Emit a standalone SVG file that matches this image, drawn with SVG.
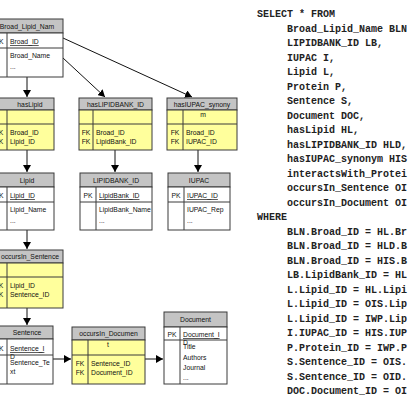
<svg xmlns="http://www.w3.org/2000/svg" width="409" height="409" viewBox="0 0 409 409">
<style>
.hdr{fill:#c4c4c4;stroke:#3a3a3a;stroke-width:1}
.wb{fill:#ffffff;stroke:#3a3a3a;stroke-width:1}
.yb{fill:#ffff9c;stroke:#3a3a3a;stroke-width:1}
.ln{stroke:#3a3a3a;stroke-width:1}
text{font-family:"Liberation Sans",Arial,sans-serif;font-size:6.8px;fill:#111}
.c{text-anchor:middle}
.u{text-decoration:underline}
.sql{font-family:"Liberation Mono","Courier New",monospace;font-size:10px;font-weight:bold;fill:#222}
.con{stroke:#111;stroke-width:1;fill:none;marker-end:url(#ah)}
</style>
<defs>
<marker id="ah" markerUnits="userSpaceOnUse" markerWidth="8" markerHeight="8" refX="7" refY="4" orient="auto">
<path d="M0,0 L7,4 L0,8 Z" fill="#000"/>
</marker>
</defs>
<rect width="409" height="409" fill="#fff"/>

<g id="connectors">
<line class="con" x1="27" y1="77" x2="27" y2="97"/>
<line class="con" x1="63" y1="58" x2="105" y2="97"/>
<line class="con" x1="63" y1="38" x2="192" y2="97"/>
<line class="con" x1="27" y1="150" x2="27" y2="172"/>
<line class="con" x1="115" y1="150" x2="115" y2="172"/>
<line class="con" x1="198" y1="150" x2="198" y2="172"/>
<line class="con" x1="27" y1="230" x2="27" y2="249"/>
<line class="con" x1="27" y1="308" x2="27" y2="325"/>
<line class="con" x1="53" y1="359" x2="71" y2="359"/>
<line class="con" x1="145" y1="359" x2="163" y2="359"/>
</g>

<g id="broad_lipid_name">
<rect class="hdr" x="-9" y="19" width="72" height="14"/>
<rect class="wb" x="-9" y="33" width="72" height="44"/>
<line class="ln" x1="-9" y1="48" x2="63" y2="48"/>
<line class="ln" x1="7" y1="33" x2="7" y2="77"/>
<text class="c" x="27" y="28.5">Broad_Lipid_Nam</text>
<text class="c" x="-1" y="44">PK</text>
<text class="u" x="10" y="44">Broad_ID</text>
<text x="10" y="58">Broad_Name</text>
<text x="10" y="69">...</text>
</g>

<g id="hasLipid">
<rect class="hdr" x="-9" y="98" width="63" height="12"/>
<rect class="yb" x="-9" y="110" width="63" height="40"/>
<line class="ln" x1="-9" y1="124" x2="54" y2="124"/>
<line class="ln" x1="7" y1="110" x2="7" y2="150"/>
<text class="c" x="30" y="106.5">hasLipid</text>
<text class="c" x="-1" y="135">FK</text>
<text class="c" x="-1" y="144">FK</text>
<text x="10" y="135">Broad_ID</text>
<text x="10" y="144">Lipid_ID</text>
</g>

<g id="hasLIPIDBANK_ID">
<rect class="hdr" x="79" y="98" width="73" height="12"/>
<rect class="yb" x="79" y="110" width="73" height="40"/>
<line class="ln" x1="79" y1="124" x2="152" y2="124"/>
<line class="ln" x1="93" y1="110" x2="93" y2="150"/>
<text class="c" x="115.5" y="106.5">hasLIPIDBANK_ID</text>
<text class="c" x="86" y="135">FK</text>
<text class="c" x="86" y="144">FK</text>
<text x="96" y="135">Broad_ID</text>
<text x="96" y="144">LipidBank_ID</text>
</g>

<g id="hasIUPAC_synonym">
<rect class="hdr" x="167" y="98" width="70" height="12"/>
<rect class="yb" x="167" y="110" width="70" height="40"/>
<line class="ln" x1="167" y1="124" x2="237" y2="124"/>
<line class="ln" x1="183" y1="110" x2="183" y2="150"/>
<text class="c" x="202" y="106.5">hasIUPAC_synony</text>
<text class="c" x="203" y="117">m</text>
<text class="c" x="175" y="135">FK</text>
<text class="c" x="175" y="144">FK</text>
<text x="186" y="135">Broad_ID</text>
<text x="186" y="144">IUPAC_ID</text>
</g>

<g id="Lipid">
<rect class="hdr" x="-9" y="173" width="63" height="14"/>
<rect class="wb" x="-9" y="187" width="63" height="43"/>
<line class="ln" x1="-9" y1="202" x2="54" y2="202"/>
<line class="ln" x1="7" y1="187" x2="7" y2="230"/>
<text class="c" x="27" y="182.5">Lipid</text>
<text class="c" x="-1" y="198">PK</text>
<text class="u" x="10" y="198">Lipid_ID</text>
<text x="10" y="212">Lipid_Name</text>
<text x="10" y="223">...</text>
</g>

<g id="LIPIDBANK_ID">
<rect class="hdr" x="80" y="173" width="72" height="14"/>
<rect class="wb" x="80" y="187" width="72" height="43"/>
<line class="ln" x1="80" y1="202" x2="152" y2="202"/>
<line class="ln" x1="96" y1="187" x2="96" y2="230"/>
<text class="c" x="116" y="182.5">LIPIDBANK_ID</text>
<text class="c" x="88" y="198">PK</text>
<text class="u" x="99" y="198">LipidBank_ID</text>
<text x="99" y="212">LipidBank_Name</text>
<text x="99" y="223">...</text>
</g>

<g id="IUPAC">
<rect class="hdr" x="168" y="173" width="62" height="14"/>
<rect class="wb" x="168" y="187" width="62" height="43"/>
<line class="ln" x1="168" y1="202" x2="230" y2="202"/>
<line class="ln" x1="184" y1="187" x2="184" y2="230"/>
<text class="c" x="199" y="182.5">IUPAC</text>
<text class="c" x="176" y="198">PK</text>
<text class="u" x="187" y="198">IUPAC_ID</text>
<text x="187" y="212">IUPAC_Rep</text>
<text x="187" y="223">...</text>
</g>

<g id="occursIn_Sentence">
<rect class="hdr" x="-9" y="250" width="72" height="13"/>
<rect class="yb" x="-9" y="263" width="72" height="45"/>
<line class="ln" x1="-9" y1="277" x2="63" y2="277"/>
<line class="ln" x1="7" y1="263" x2="7" y2="308"/>
<text class="c" x="30" y="259">occursIn_Sentence</text>
<text class="c" x="-1" y="288">FK</text>
<text class="c" x="-1" y="297">FK</text>
<text x="10" y="288">Lipid_ID</text>
<text x="10" y="297">Sentence_ID</text>
</g>

<g id="Sentence">
<rect class="hdr" x="-9" y="326" width="62" height="13"/>
<rect class="wb" x="-9" y="339" width="62" height="45"/>
<line class="ln" x1="-9" y1="355" x2="53" y2="355"/>
<line class="ln" x1="7" y1="339" x2="7" y2="384"/>
<text class="c" x="27" y="335">Sentence</text>
<text class="c" x="-1" y="351">PK</text>
<text class="u" x="10" y="351">Sentence_I</text>
<text x="10" y="359">D</text>
<text x="10" y="365">Sentence_Te</text>
<text x="10" y="374">xt</text>
</g>

<g id="occursIn_Document">
<rect class="hdr" x="72" y="327" width="73" height="13"/>
<rect class="yb" x="72" y="340" width="73" height="44"/>
<line class="ln" x1="72" y1="355" x2="145" y2="355"/>
<line class="ln" x1="88" y1="340" x2="88" y2="384"/>
<text class="c" x="108.5" y="336">occursIn_Documen</text>
<text class="c" x="108" y="347">t</text>
<text class="c" x="80" y="366">FK</text>
<text class="c" x="80" y="375">FK</text>
<text x="91" y="366">Sentence_ID</text>
<text x="91" y="375">Document_ID</text>
</g>

<g id="Document">
<rect class="hdr" x="164" y="312" width="63" height="15"/>
<rect class="wb" x="164" y="327" width="63" height="57"/>
<line class="ln" x1="164" y1="340" x2="227" y2="340"/>
<line class="ln" x1="180" y1="327" x2="180" y2="384"/>
<text class="c" x="195.5" y="322">Document</text>
<text class="c" x="172" y="337">PK</text>
<text class="u" x="183" y="337">Document_I</text>
<text x="183" y="345">D</text>
<text x="183" y="349">Title</text>
<text x="183" y="360">Authors</text>
<text x="183" y="370">Journal</text>
<text x="183" y="380">...</text>
</g>

<g id="sql">
<text class="sql" x="257" y="17">SELECT * FROM</text>
<text class="sql" x="287" y="31.5">Broad_Lipid_Name BLN</text>
<text class="sql" x="287" y="46">LIPIDBANK_ID LB,</text>
<text class="sql" x="287" y="60.5">IUPAC I,</text>
<text class="sql" x="287" y="75">Lipid L,</text>
<text class="sql" x="287" y="89.5">Protein P,</text>
<text class="sql" x="287" y="104">Sentence S,</text>
<text class="sql" x="287" y="118.5">Document DOC,</text>
<text class="sql" x="287" y="133">hasLipid HL,</text>
<text class="sql" x="287" y="147.5">hasLIPIDBANK_ID HLD,</text>
<text class="sql" x="287" y="162">hasIUPAC_synonym HIS</text>
<text class="sql" x="287" y="176.5">interactsWith_Protei</text>
<text class="sql" x="287" y="191">occursIn_Sentence OI</text>
<text class="sql" x="287" y="205.5">occursIn_Document OI</text>
<text class="sql" x="257" y="220">WHERE</text>
<text class="sql" x="287" y="234.5">BLN.Broad_ID = HL.Br</text>
<text class="sql" x="287" y="249">BLN.Broad_ID = HLD.B</text>
<text class="sql" x="287" y="263.5">BLN.Broad_ID = HIS.B</text>
<text class="sql" x="287" y="278">LB.LipidBank_ID = HL</text>
<text class="sql" x="287" y="292.5">L.Lipid_ID = HL.Lipi</text>
<text class="sql" x="287" y="307">L.Lipid_ID = OIS.Lip</text>
<text class="sql" x="287" y="321.5">L.Lipid_ID = IWP.Lip</text>
<text class="sql" x="287" y="336">I.IUPAC_ID = HIS.IUP</text>
<text class="sql" x="287" y="350.5">P.Protein_ID = IWP.P</text>
<text class="sql" x="287" y="365">S.Sentence_ID = OIS.</text>
<text class="sql" x="287" y="379.5">S.Sentence_ID = OID.</text>
<text class="sql" x="287" y="394">DOC.Document_ID = OI</text>
</g>
</svg>
